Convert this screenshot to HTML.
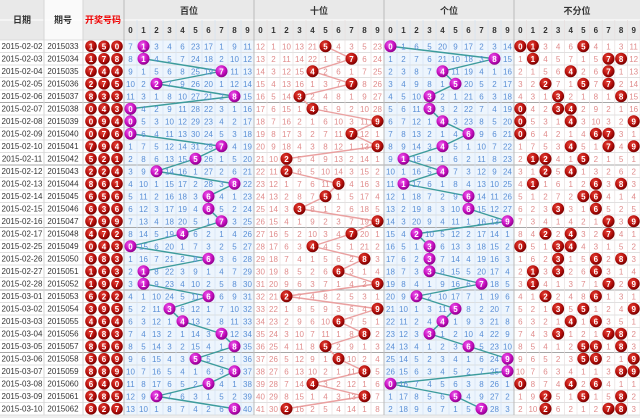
<!DOCTYPE html>
<html><head><meta charset="utf-8">
<style>
html,body{margin:0;padding:0;background:#fff;}
svg{display:block;font-family:"Liberation Sans","Noto Sans CJK SC",sans-serif;}
</style></head>
<body>
<svg id="s" width="640" height="418" xmlns="http://www.w3.org/2000/svg">
<defs>
<radialGradient id="rb" cx="40%" cy="35%" r="65%"><stop offset="0" stop-color="#e8453a"/><stop offset="0.6" stop-color="#b8100c"/><stop offset="1" stop-color="#7a0000"/></radialGradient>
<radialGradient id="mb" cx="40%" cy="35%" r="65%"><stop offset="0" stop-color="#f060f0"/><stop offset="0.6" stop-color="#c810c0"/><stop offset="1" stop-color="#900090"/></radialGradient>
</defs>
<rect x="0" y="0" width="640" height="40" fill="#e9e9e9"/>
<rect x="44" y="0" width="39" height="40" fill="#fafafa"/>
<g id="bg"></g>
<g id="grid"></g>
<g font-size="9" font-weight="bold" fill="#333" text-anchor="middle">
<text x="22" y="23">日期</text>
<text x="63" y="23">期号</text>
<text x="103" y="23" fill="#e00">开奖号码</text>
<text x="189" y="14">百位</text>
<text x="319" y="14">十位</text>
<text x="449" y="14">个位</text>
<text x="577" y="14">不分位</text>
</g>
<g id="hd" font-size="8" font-weight="bold" fill="#333" text-anchor="middle"></g>
<g id="left" font-size="8" fill="#333" text-anchor="middle">
<text x="22" y="49">2015-02-02</text><text x="63" y="49">2015033</text>
<text x="22" y="61.5">2015-02-03</text><text x="63" y="61.5">2015034</text>
<text x="22" y="74">2015-02-04</text><text x="63" y="74">2015035</text>
<text x="22" y="86.5">2015-02-05</text><text x="63" y="86.5">2015036</text>
<text x="22" y="99">2015-02-06</text><text x="63" y="99">2015037</text>
<text x="22" y="111.5">2015-02-07</text><text x="63" y="111.5">2015038</text>
<text x="22" y="124">2015-02-08</text><text x="63" y="124">2015039</text>
<text x="22" y="136.5">2015-02-09</text><text x="63" y="136.5">2015040</text>
<text x="22" y="149">2015-02-10</text><text x="63" y="149">2015041</text>
<text x="22" y="161.5">2015-02-11</text><text x="63" y="161.5">2015042</text>
<text x="22" y="174">2015-02-12</text><text x="63" y="174">2015043</text>
<text x="22" y="186.5">2015-02-13</text><text x="63" y="186.5">2015044</text>
<text x="22" y="199">2015-02-14</text><text x="63" y="199">2015045</text>
<text x="22" y="211.5">2015-02-15</text><text x="63" y="211.5">2015046</text>
<text x="22" y="224">2015-02-16</text><text x="63" y="224">2015047</text>
<text x="22" y="236.5">2015-02-17</text><text x="63" y="236.5">2015048</text>
<text x="22" y="249">2015-02-25</text><text x="63" y="249">2015049</text>
<text x="22" y="261.5">2015-02-26</text><text x="63" y="261.5">2015050</text>
<text x="22" y="274">2015-02-27</text><text x="63" y="274">2015051</text>
<text x="22" y="286.5">2015-02-28</text><text x="63" y="286.5">2015052</text>
<text x="22" y="299">2015-03-01</text><text x="63" y="299">2015053</text>
<text x="22" y="311.5">2015-03-02</text><text x="63" y="311.5">2015054</text>
<text x="22" y="324">2015-03-03</text><text x="63" y="324">2015055</text>
<text x="22" y="336.5">2015-03-04</text><text x="63" y="336.5">2015056</text>
<text x="22" y="349">2015-03-05</text><text x="63" y="349">2015057</text>
<text x="22" y="361.5">2015-03-06</text><text x="63" y="361.5">2015058</text>
<text x="22" y="374">2015-03-07</text><text x="63" y="374">2015059</text>
<text x="22" y="386.5">2015-03-08</text><text x="63" y="386.5">2015060</text>
<text x="22" y="399">2015-03-09</text><text x="63" y="399">2015061</text>
<text x="22" y="411.5">2015-03-10</text><text x="63" y="411.5">2015062</text>
</g>
<g id="lines"></g>
<g id="nums" font-size="8" text-anchor="middle"></g>
<g id="balls" font-size="8" font-weight="bold" text-anchor="middle" fill="#fff"></g>
</svg>
<script>
var NS="http://www.w3.org/2000/svg";
function el(p,t,a,txt){var e=document.createElementNS(NS,t);for(var k in a)e.setAttribute(k,a[k]);if(txt!==undefined)e.textContent=txt;document.getElementById(p).appendChild(e);return e;}
var draws="150,178,744,275,833,043,094,076,794,521,224,861,656,636,799,472,043,683,163,197,622,395,464,783,856,569,889,640,285,827".split(",").map(function(s){return s.split("").map(Number);});
var H=-1;
var init=[[7,H,3,4,6,23,17,1,9,11],[12,1,10,13,21,H,4,3,5,23],[H,1,6,5,20,9,17,2,3,14],[H,H,3,4,6,H,4,1,3,11]];
var X0=[124,254,384,514],W=[13,13,13,12.6];
var T=40,R=12.5,N=30;
function cx(s,d){return X0[s]+W[s]*(d+0.5);}
function cy(i){return T+R*i+R/2;}
// backgrounds
var bgc=["#edf5fd","#fff","#edf5fd","#fff"];
for(var s=0;s<4;s++){el("bg","rect",{x:X0[s],y:T,width:W[s]*10,height:R*N,fill:bgc[s]});}
el("bg","rect",{x:0,y:T+R*N,width:640,height:418-T-R*N,fill:"#eee"});
// grid lines
var gc="#d6d6d6";
for(var i=0;i<=N;i++){var y=T+R*i;el("grid","line",{x1:0,x2:640,y1:y,y2:y,stroke:(i%5==0&&i>0&&i<N)?"#a8a8a8":gc,"stroke-width":(i%5==0&&i>0&&i<N)?1:0.7});}
el("grid","line",{x1:0,x2:640,y1:20,y2:20,stroke:"#fff","stroke-width":1});
[44,83,124].forEach(function(x){el("grid","line",{x1:x,x2:x,y1:0,y2:T+R*N,stroke:gc,"stroke-width":1});});
for(var s=0;s<4;s++){for(var d=0;d<=10;d++){var x=X0[s]+W[s]*d;var major=(d==0);
el("grid","line",{x1:x,x2:x,y1:major?0:20,y2:T+R*N,stroke:major?"#bbb":(s%2==0?"#d3e3f3":"#e8dede"),"stroke-width":major?1:0.7});
if(d<10)el("hd","text",{x:cx(s,d),y:33},d);}}
// draw balls
for(var i=0;i<N;i++){for(var k=0;k<3;k++){var x=91+k*13,y=cy(i);el("balls","circle",{cx:x,cy:y,r:5.8,fill:"url(#rb)"});el("balls","text",{x:x,y:y+3},draws[i][k]);}}
// omissions
var cur=init.map(function(a){return a.slice();});
var pts=[[],[],[]];
var tcol=["#5a8fd6","#e08c8c","#5a8fd6","#e08c8c"];
for(var i=0;i<N;i++){
 var dr=draws[i];
 for(var s=0;s<4;s++){
  for(var d=0;d<10;d++){
   var hit= s<3 ? dr[s]==d : dr.indexOf(d)>=0;
   var v;
   if(i==0){v=hit?0:init[s][d];}else{v=hit?0:cur[s][d]+1;}
   cur[s][d]=v;
   var x=cx(s,d),y=cy(i);
   if(hit){
     var mag=(s==0||s==2);
     el("balls","circle",{cx:x,cy:y,r:6,fill:mag?"url(#mb)":"url(#rb)"});
     el("balls","text",{x:x,y:y+3},d);
     if(s<3)pts[s].push(x+","+y);
   } else {
     el("nums","text",{x:x,y:y+3,fill:tcol[s]},v);
   }
  }
 }
}
var lc=["#3c9c9c","#eaa0a0","#3c9c9c"];
for(var s=0;s<3;s++)el("lines","polyline",{points:pts[s].join(" "),fill:"none",stroke:lc[s],"stroke-width":1.4});
</script>
</body></html>
